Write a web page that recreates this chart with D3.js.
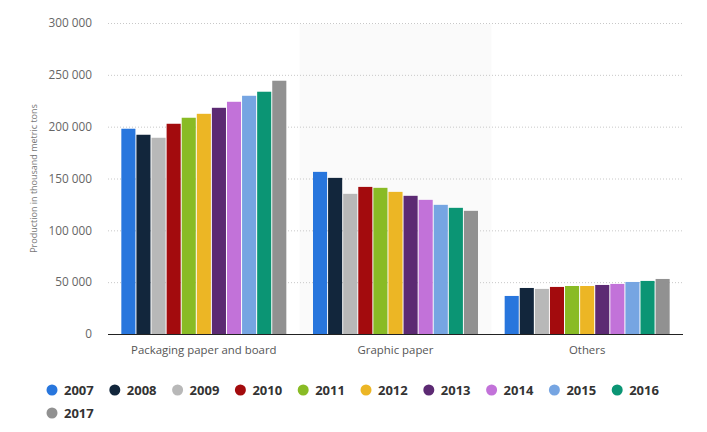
<!DOCTYPE html>
<html>
<head>
<meta charset="utf-8">
<script src="https://cdn.jsdelivr.net/npm/d3@7"></script>
<style>
  body { margin: 0; background: #fff; }
  svg text { font-family: "Open Sans", "DejaVu Sans", sans-serif; }
</style>
</head>
<body>
<div id="chart"></div>
<script>
// data (thousand metric tons)
var categories = ["Packaging paper and board", "Graphic paper", "Others"];
var years = ["2007", "2008", "2009", "2010", "2011", "2012", "2013", "2014", "2015", "2016", "2017"];
var packaging = [198000, 192200, 189300, 202800, 208600, 212400, 218200, 224000, 229800, 233700, 244300];
var graphic = [156400, 150600, 135200, 141900, 141000, 137100, 133300, 129400, 124600, 121700, 118800];
var others = [36700, 44400, 43500, 45400, 46300, 46300, 47300, 48300, 50200, 51200, 53100];
var yTicks = [0, 50000, 100000, 150000, 200000, 250000, 300000];
var colors = ["#2876dd", "#12263c", "#b8b8b8", "#a30b0d", "#89bb25", "#ecb625", "#5c2a73", "#c272d9", "#76a5e2", "#0b9574", "#919191"];

var series = [packaging, graphic, others];

var width = 707, height = 432;
var margin = { top: 23, left: 108, right: 24, bottom: 98 };

var svg = d3.select("#chart").append("svg")
  .attr("width", width)
  .attr("height", height);

var x0 = d3.scaleBand()
  .domain(categories)
  .range([margin.left, width - margin.right])
  .padding(0);

var groupWidth = 165;
var x1 = d3.scaleBand()
  .domain(years)
  .range([0, groupWidth])
  .paddingInner(1 / 15)
  .paddingOuter(0);

var y = d3.scaleLinear()
  .domain([0, 300000])
  .range([height - margin.bottom, margin.top]);

//shaded middle band
svg.append("rect")
  .attr("x", x0("Graphic paper"))
  .attr("y", y(300000) + 1)
  .attr("width", x0.bandwidth())
  .attr("height", y(0) - y(300000) - 1)
  .attr("fill", "#fafafa");

//grid lines + y labels
var fmt = function (d) { return d3.format(",")(d).replace(/,/g, " "); };

svg.append("g")
  .attr("transform", `translate(${margin.left},0)`)
  .call(d3.axisLeft(y).tickValues(yTicks).tickSize(-(width - margin.left - margin.right)).tickPadding(16).tickFormat(fmt))
  .call(g => g.select(".domain").remove())
  .call(g => g.selectAll(".tick line")
    .attr("stroke", "#c8c8c8")
    .attr("stroke-dasharray", "1,2"))
  .call(g => g.selectAll(".tick text")
    .attr("fill", "#666")
    .style("font-size", "11.8px"));

//bars
categories.forEach(function (cat, ci) {
  var off = x0(cat) + (x0.bandwidth() - groupWidth) / 2;
  svg.append("g")
    .selectAll("rect")
    .data(series[ci])
    .join("rect")
    .attr("x", (d, i) => off + x1(years[i]))
    .attr("y", d => y(d))
    .attr("width", x1.bandwidth())
    .attr("height", d => y(0) - y(d))
    .attr("fill", (d, i) => colors[i]);
});

//baseline
svg.append("line")
  .attr("x1", margin.left)
  .attr("x2", width - margin.right)
  .attr("y1", y(0) + 0.5)
  .attr("y2", y(0) + 0.5)
  .attr("stroke", "#222")
  .attr("stroke-width", 1.2);

//category labels
svg.append("g")
  .selectAll("text")
  .data(categories)
  .join("text")
  .attr("x", d => x0(d) + x0.bandwidth() / 2)
  .attr("y", y(0) + 20)
  .attr("text-anchor", "middle")
  .attr("fill", "#555")
  .style("font-size", "11.4px")
  .text(d => d);

//y axis title
svg.append("text")
  .attr("transform", `translate(37,${(y(0) + y(300000)) / 2}) rotate(-90)`)
  .attr("text-anchor", "middle")
  .attr("fill", "#777")
  .style("font-size", "9px")
  .text("Production in thousand metric tons");

//legend
var legend = svg.append("g");
years.forEach(function (yr, i) {
  var col = i % 10, row = Math.floor(i / 10);
  var lx = 52 + col * 62.8, ly = 390 + row * 23;
  legend.append("circle")
    .attr("cx", lx)
    .attr("cy", ly)
    .attr("r", 5.5)
    .attr("fill", colors[i]);
  legend.append("text")
    .attr("x", lx + 12)
    .attr("y", ly + 4.5)
    .attr("fill", "#333")
    .style("font-size", "13px")
    .style("font-weight", "bold")
    .text(yr);
});
</script>
</body>
</html>
